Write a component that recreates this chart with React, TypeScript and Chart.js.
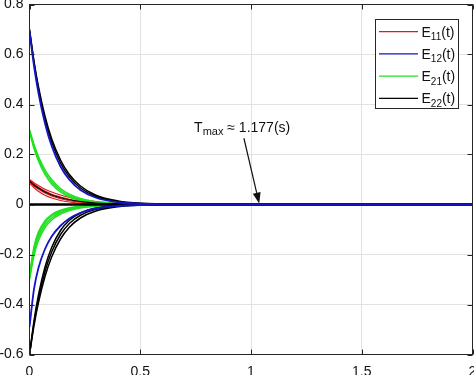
import React, { useEffect, useRef } from 'react';
import { Chart, registerables } from 'chart.js';
Chart.register(...registerables);

const FONT = "'Liberation Sans', Arial, Helvetica, sans-serif";

// time samples (s)
const T = [0, 0.02, 0.04, 0.07, 0.1, 0.14, 0.18, 0.23, 0.3, 0.4, 0.5, 0.7, 1.0, 2.0];

// E11(t) trajectories (red)
const E11_a = [0.1, 0.087, 0.076, 0.061, 0.05, 0.038, 0.028, 0.02, 0.012, 0.006, 0.003, 0.001, 0, 0];
const E11_b = [0.097, 0.082, 0.069, 0.054, 0.041, 0.03, 0.021, 0.014, 0.008, 0.003, 0.001, 0, 0, 0];
const E11_c = [0.092, 0.075, 0.062, 0.046, 0.034, 0.023, 0.015, 0.009, 0.005, 0.002, 0.001, 0, 0, 0];
const E11_d = [0.086, 0.068, 0.053, 0.037, 0.026, 0.016, 0.01, 0.005, 0.002, 0.001, 0, 0, 0, 0];

// E12(t) trajectories (blue)
const E12_a = [0.69, 0.556, 0.448, 0.324, 0.234, 0.152, 0.099, 0.058, 0.027, 0.009, 0.003, 0, 0, 0];
const E12_b = [-0.49, -0.34, -0.255, -0.178, -0.128, -0.085, -0.056, -0.033, -0.016, -0.006, -0.002, 0, 0, 0];

// E21(t) trajectories (green)
const E21_a = [0.3, 0.241, 0.193, 0.139, 0.1, 0.064, 0.041, 0.024, 0.011, 0.004, 0.001, 0, 0, 0];
const E21_b = [0.295, 0.233, 0.184, 0.129, 0.091, 0.057, 0.035, 0.02, 0.009, 0.003, 0.001, 0, 0, 0];
const E21_c = [0.29, 0.225, 0.175, 0.12, 0.082, 0.05, 0.03, 0.016, 0.007, 0.002, 0.001, 0, 0, 0];
const E21_d = [-0.3, -0.205, -0.145, -0.092, -0.062, -0.038, -0.024, -0.014, -0.007, -0.003, -0.001, 0, 0, 0];
const E21_e = [-0.295, -0.192, -0.132, -0.082, -0.054, -0.032, -0.02, -0.011, -0.005, -0.002, -0.001, 0, 0, 0];
const E21_f = [-0.29, -0.18, -0.12, -0.072, -0.046, -0.027, -0.016, -0.009, -0.004, -0.001, 0, 0, 0, 0];
const E21_g = [-0.285, -0.17, -0.11, -0.065, -0.04, -0.023, -0.013, -0.007, -0.003, -0.001, 0, 0, 0, 0];

// E22(t) trajectories (black)
const E22_a = [0.7, 0.575, 0.473, 0.353, 0.263, 0.178, 0.12, 0.074, 0.037, 0.014, 0.005, 0.001, 0, 0];
const E22_b = [0.7, 0.57, 0.464, 0.34, 0.25, 0.166, 0.11, 0.066, 0.032, 0.011, 0.004, 0, 0, 0];
const E22_c = [0.094, 0.078, 0.066, 0.05, 0.038, 0.027, 0.019, 0.012, 0.006, 0.003, 0.001, 0, 0, 0];
const E22_d = [0, 0, 0, 0, 0, 0, 0, 0, 0, 0, 0, 0, 0, 0];
const E22_e = [-0.6, -0.486, -0.394, -0.288, -0.21, -0.138, -0.091, -0.054, -0.026, -0.009, -0.003, 0, 0, 0];
const E22_f = [-0.6, -0.477, -0.379, -0.268, -0.19, -0.12, -0.076, -0.043, -0.019, -0.006, -0.002, 0, 0, 0];
const E22_g = [-0.6, -0.467, -0.364, -0.25, -0.172, -0.104, -0.063, -0.034, -0.014, -0.004, -0.001, 0, 0, 0];

const xTicks = [0, 0.5, 1, 1.5, 2];
const xTickLabels = ['0', '0.5', '1', '1.5', '2'];
const yTicks = [-0.6, -0.4, -0.2, 0, 0.2, 0.4, 0.6, 0.8];
const yTickLabels = ['-0.6', '-0.4', '-0.2', '0', '0.2', '0.4', '0.6', '0.8'];

const RED = '#e0191e';
const BLUE = '#1414c8';
const GREEN = '#22e022';
const BLACK = '#000000';

const legendItems = [
  { base: 'E', sub: '11', tail: '(t)', color: RED },
  { base: 'E', sub: '12', tail: '(t)', color: BLUE },
  { base: 'E', sub: '21', tail: '(t)', color: GREEN },
  { base: 'E', sub: '22', tail: '(t)', color: BLACK },
];

const annotationText = { base: 'T', sub: 'max', tail: ' \u2248 1.177(s)' };

function pts(ys: number[]) {
  return ys.map((y, i) => ({ x: T[i], y }));
}

function ds(ys: number[], color: string, width = 1.5) {
  return {
    data: pts(ys),
    borderColor: color,
    backgroundColor: color,
    borderWidth: width,
    pointRadius: 0,
    fill: false,
    cubicInterpolationMode: 'monotone' as const,
  };
}

const decorPlugin = {
  id: 'decor',
  afterDatasetsDraw(chart: any) {
    const { ctx, chartArea: a, scales } = chart;
    const xs = scales.x;
    const ys = scales.y;
    ctx.save();
    // frame
    ctx.strokeStyle = '#262626';
    ctx.lineWidth = 1;
    ctx.strokeRect(a.left, a.top, a.right - a.left, a.bottom - a.top);
    // inward tick marks
    const tl = 5;
    ctx.beginPath();
    xTicks.forEach((v) => {
      const p = Math.round(xs.getPixelForValue(v)) + 0.5;
      ctx.moveTo(p, a.bottom);
      ctx.lineTo(p, a.bottom - tl);
      ctx.moveTo(p, a.top);
      ctx.lineTo(p, a.top + tl);
    });
    yTicks.forEach((v) => {
      const p = Math.round(ys.getPixelForValue(v)) + 0.5;
      ctx.moveTo(a.left, p);
      ctx.lineTo(a.left + tl, p);
      ctx.moveTo(a.right, p);
      ctx.lineTo(a.right - tl, p);
    });
    ctx.stroke();

    // annotation arrow
    const fx = xs.getPixelForValue(0.968);
    const fy = ys.getPixelForValue(0.265);
    const tx = xs.getPixelForValue(1.037);
    const ty = ys.getPixelForValue(0.004);
    const ang = Math.atan2(ty - fy, tx - fx);
    const hl = 11;
    const hw = 4;
    const bx = tx - hl * Math.cos(ang);
    const by = ty - hl * Math.sin(ang);
    ctx.strokeStyle = '#111';
    ctx.lineWidth = 1.2;
    ctx.beginPath();
    ctx.moveTo(fx, fy);
    ctx.lineTo(bx, by);
    ctx.stroke();
    ctx.fillStyle = '#111';
    ctx.beginPath();
    ctx.moveTo(tx, ty);
    ctx.lineTo(bx + hw * Math.sin(ang), by - hw * Math.cos(ang));
    ctx.lineTo(bx - hw * Math.sin(ang), by + hw * Math.cos(ang));
    ctx.closePath();
    ctx.fill();

    // annotation text
    const ax = xs.getPixelForValue(0.743);
    const ay = ys.getPixelForValue(0.292);
    ctx.fillStyle = '#111';
    ctx.textBaseline = 'alphabetic';
    ctx.textAlign = 'left';
    ctx.font = `14px ${FONT}`;
    ctx.fillText(annotationText.base, ax, ay);
    let cx = ax + ctx.measureText(annotationText.base).width;
    ctx.font = `11px ${FONT}`;
    ctx.fillText(annotationText.sub, cx, ay + 3.5);
    cx += ctx.measureText(annotationText.sub).width;
    ctx.font = `14px ${FONT}`;
    ctx.fillText(annotationText.tail, cx, ay);

    // legend
    const lx = 375.5;
    const ly = 19.5;
    const lw = 83;
    const lh = 89;
    ctx.fillStyle = '#ffffff';
    ctx.fillRect(lx, ly, lw, lh);
    ctx.strokeStyle = '#262626';
    ctx.lineWidth = 1;
    ctx.strokeRect(lx, ly, lw, lh);
    legendItems.forEach((it, i) => {
      const yy = 31.7 + i * 22.2;
      ctx.strokeStyle = it.color;
      ctx.lineWidth = 1.3;
      ctx.beginPath();
      ctx.moveTo(379, yy);
      ctx.lineTo(418, yy);
      ctx.stroke();
      ctx.fillStyle = '#111';
      ctx.font = `14px ${FONT}`;
      const base = yy + 5;
      ctx.fillText(it.base, 421.5, base);
      let px = 421.5 + ctx.measureText(it.base).width;
      ctx.font = `10px ${FONT}`;
      ctx.fillText(it.sub, px, base + 3.5);
      px += ctx.measureText(it.sub).width;
      ctx.font = `14px ${FONT}`;
      ctx.fillText(it.tail, px, base);
    });
    ctx.restore();
  },
};

export default function App() {
  const ref = useRef<HTMLCanvasElement | null>(null);
  useEffect(() => {
    document.body.style.margin = '0';
    const canvas = ref.current;
    if (!canvas) return;
    const chart = new Chart(canvas, {
      type: 'line',
      data: {
        datasets: [
          ds(E12_a, BLUE, 1.8),
          ds(E12_b, BLUE, 1.8),
          ds(E22_a, BLACK),
          ds(E22_b, BLACK),
          ds(E22_c, BLACK, 1.2),
          ds(E22_d, BLACK, 2.4),
          ds(E22_e, BLACK),
          ds(E22_f, BLACK),
          ds(E22_g, BLACK),
          ds(E21_a, GREEN),
          ds(E21_b, GREEN),
          ds(E21_c, GREEN),
          ds(E21_d, GREEN),
          ds(E21_e, GREEN),
          ds(E21_f, GREEN),
          ds(E21_g, GREEN),
          ds(E11_a, RED, 1.2),
          ds(E11_b, RED, 1.2),
          ds(E11_c, RED, 1.2),
          ds(E11_d, RED, 1.2),
        ] as any,
      },
      options: {
        responsive: false,
        animation: false,
        layout: { padding: { top: 4.5, right: 1.5, left: 0, bottom: 0 } },
        plugins: { legend: { display: false }, tooltip: { enabled: false } },
        scales: {
          x: {
            type: 'linear',
            min: 0,
            max: 2,
            afterBuildTicks: (axis: any) => {
              axis.ticks = xTicks.map((v) => ({ value: v }));
            },
            afterFit: (axis: any) => {
              axis.height = 20.5;
              axis.paddingLeft = 0;
              axis.paddingRight = 0;
            },
            grid: { color: '#e2e2e2', lineWidth: 1, drawTicks: false },
            border: { display: false },
            ticks: {
              autoSkip: false,
              maxRotation: 0,
              padding: 9,
              color: '#111',
              font: { family: FONT, size: 14 },
              callback: (v: any) => {
                const i = xTicks.indexOf(Number(v));
                return i >= 0 ? xTickLabels[i] : '';
              },
            },
          },
          y: {
            type: 'linear',
            min: -0.6,
            max: 0.8,
            afterBuildTicks: (axis: any) => {
              axis.ticks = yTicks.map((v) => ({ value: v }));
            },
            afterFit: (axis: any) => {
              axis.width = 29.5;
              axis.paddingTop = 0;
              axis.paddingBottom = 0;
            },
            grid: { color: '#e2e2e2', lineWidth: 1, drawTicks: false },
            border: { display: false },
            ticks: {
              autoSkip: false,
              padding: 6,
              color: '#111',
              font: { family: FONT, size: 14 },
              callback: (v: any) => {
                const i = yTicks.findIndex((t) => Math.abs(t - Number(v)) < 1e-9);
                return i >= 0 ? yTickLabels[i] : '';
              },
            },
          },
        },
      },
      plugins: [decorPlugin],
    } as any);
    return () => chart.destroy();
  }, []);
  return (
    <div style={{ width: 474, height: 375 }}>
      <canvas ref={ref} width={474} height={375} style={{ display: 'block' }} />
    </div>
  );
}
